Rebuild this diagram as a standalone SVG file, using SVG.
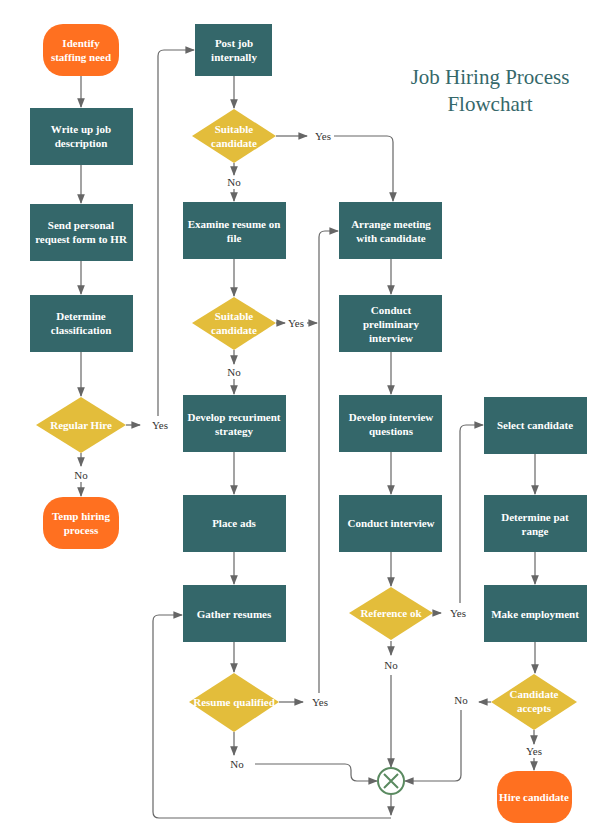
<svg xmlns="http://www.w3.org/2000/svg" width="611" height="834" viewBox="0 0 611 834">
<style>
.p{fill:#34676A}.t{fill:#FF7020}.d{fill:#E3BD3B}
.n text{font-family:"Liberation Serif",serif;font-weight:bold;font-size:11px;fill:#fff;text-anchor:middle}
.l{font-family:"Liberation Serif",serif;font-size:11px;fill:#333;text-anchor:middle}
#c path,#c line{stroke:#666;stroke-width:1.2;fill:none}
</style>
<defs><marker id="a" viewBox="0 0 10 10" refX="9" refY="5" markerWidth="8" markerHeight="8" orient="auto"><path d="M0,1 L10,5 L0,9z" fill="#666"/></marker></defs>
<rect width="611" height="834" fill="#fff"/>
<text x="490" y="84" font-family="Liberation Serif,serif" font-size="21" fill="#35686A" text-anchor="middle">Job Hiring Process</text>
<text x="490" y="111" font-family="Liberation Serif,serif" font-size="21" fill="#35686A" text-anchor="middle">Flowchart</text>
<g id="c" marker-end="url(#a)">
<path d="M81,76V107"/><path d="M81,165V203"/><path d="M81,261V294"/><path d="M81,352V396"/>
<path d="M81,453V466"/><path d="M81,482V496"/>
<path d="M126,425H140"/><path d="M158,416V56Q158,50 164,50H194"/>
<path d="M234,76V108"/><path d="M234,163V175"/><path d="M234,189V201"/>
<path d="M234,259V296"/><path d="M234,350V364"/><path d="M234,379V394"/>
<path d="M234,452V494"/><path d="M234,552V584"/><path d="M234,642V672"/>
<path d="M234,732V755"/>
<path d="M276,136H307"/><path d="M334,136H387Q393,136 393,142V201"/>
<path d="M276,323H285"/><path d="M307,323H317"/>
<path d="M279,702H303"/><path d="M319,693V237Q319,231 325,231H338"/>
<path d="M391,259V294"/><path d="M391,352V394"/><path d="M391,452V494"/><path d="M391,552V586"/>
<path d="M433,613H441"/><path d="M460,603V431Q460,425 466,425H483"/>
<path d="M391,641V655"/><path d="M391,675V767"/>
<path d="M255,764H345Q351,764 351,770V775Q351,781 357,781H377"/>
<path d="M391,794V815"/><path d="M391,818H159Q153,818 153,812V621Q153,615 159,615H182"/>
<path d="M535,454V494"/><path d="M535,552V584"/><path d="M535,642V673"/>
<path d="M491,702H479"/><path d="M461,710V775Q461,781 455,781H405"/>
<path d="M534,730V744"/><path d="M534,758V770"/>
</g>
<g class="l"><text x="81" y="479">No</text><text x="160" y="429">Yes</text><text x="234" y="186">No</text><text x="323" y="140">Yes</text><text x="234" y="376">No</text><text x="296" y="327">Yes</text><text x="320" y="706">Yes</text><text x="237" y="768">No</text><text x="458" y="617">Yes</text><text x="391" y="669">No</text><text x="461" y="704">No</text><text x="534" y="755">Yes</text></g>
<g id="x"><circle cx="391" cy="781" r="13" fill="#fff" stroke="#5A8A60" stroke-width="2"/><path d="M384,774L398,788M398,774L384,788" stroke="#5A8A60" stroke-width="2"/></g>
<g id="n1" class="n"><rect class="t" x="43" y="24" width="76" height="52" rx="20"/><text x="81" y="47">Identify</text><text x="81" y="61">staffing need</text></g>
<g id="n2" class="n"><rect class="p" x="30" y="108" width="103" height="57"/><text x="81" y="133">Write up job</text><text x="81" y="147">description</text></g>
<g id="n3" class="n"><rect class="p" x="30" y="204" width="103" height="57"/><text x="81" y="229">Send personal</text><text x="81" y="243">request form to HR</text></g>
<g id="n4" class="n"><rect class="p" x="30" y="295" width="103" height="57"/><text x="81" y="320">Determine</text><text x="81" y="334">classification</text></g>
<g id="n5" class="n"><polygon class="d" points="81,397 126,425 81,453 36,425"/><text x="81" y="429">Regular Hire</text></g>
<g id="n6" class="n"><rect class="t" x="43" y="497" width="76" height="52" rx="20"/><text x="81" y="520">Temp hiring</text><text x="81" y="534">process</text></g>
<g id="n7" class="n"><rect class="p" x="195" y="24" width="77" height="52"/><text x="234" y="47">Post job</text><text x="234" y="61">internally</text></g>
<g id="n8" class="n"><polygon class="d" points="234,109 276,136 234,163 192,136"/><text x="234" y="133">Suitable</text><text x="234" y="147">candidate</text></g>
<g id="n9" class="n"><rect class="p" x="183" y="202" width="103" height="57"/><text x="234" y="228">Examine resume on</text><text x="234" y="242">file</text></g>
<g id="n10" class="n"><polygon class="d" points="234,297 276,323 234,350 192,323"/><text x="234" y="320">Suitable</text><text x="234" y="334">candidate</text></g>
<g id="n11" class="n"><rect class="p" x="183" y="395" width="103" height="57"/><text x="234" y="421">Develop recuriment</text><text x="234" y="435">strategy</text></g>
<g id="n12" class="n"><rect class="p" x="183" y="495" width="103" height="57"/><text x="234" y="527">Place ads</text></g>
<g id="n13" class="n"><rect class="p" x="183" y="585" width="103" height="57"/><text x="234" y="618">Gather resumes</text></g>
<g id="n14" class="n"><polygon class="d" points="234,673 279,702 234,732 189,702"/><text x="234" y="706">Resume qualified</text></g>
<g id="n15" class="n"><rect class="p" x="339" y="202" width="103" height="57"/><text x="391" y="228">Arrange meeting</text><text x="391" y="242">with candidate</text></g>
<g id="n16" class="n"><rect class="p" x="339" y="295" width="103" height="57"/><text x="391" y="314">Conduct</text><text x="391" y="328">preliminary</text><text x="391" y="342">interview</text></g>
<g id="n17" class="n"><rect class="p" x="339" y="395" width="103" height="57"/><text x="391" y="421">Develop interview</text><text x="391" y="435">questions</text></g>
<g id="n18" class="n"><rect class="p" x="339" y="495" width="103" height="57"/><text x="391" y="527">Conduct interview</text></g>
<g id="n19" class="n"><polygon class="d" points="391,587 433,613 391,640 349,613"/><text x="391" y="617">Reference ok</text></g>
<g id="n20" class="n"><rect class="p" x="484" y="397" width="103" height="57"/><text x="535" y="429">Select candidate</text></g>
<g id="n21" class="n"><rect class="p" x="484" y="495" width="103" height="57"/><text x="535" y="521">Determine pat</text><text x="535" y="535">range</text></g>
<g id="n22" class="n"><rect class="p" x="484" y="585" width="103" height="57"/><text x="535" y="618">Make employment</text></g>
<g id="n23" class="n"><polygon class="d" points="534,674 577,702 534,730 491,702"/><text x="534" y="698">Candidate</text><text x="534" y="712">accepts</text></g>
<g id="n24" class="n"><rect class="t" x="497" y="771" width="75" height="52" rx="20"/><text x="534" y="801">Hire candidate</text></g>
</svg>
